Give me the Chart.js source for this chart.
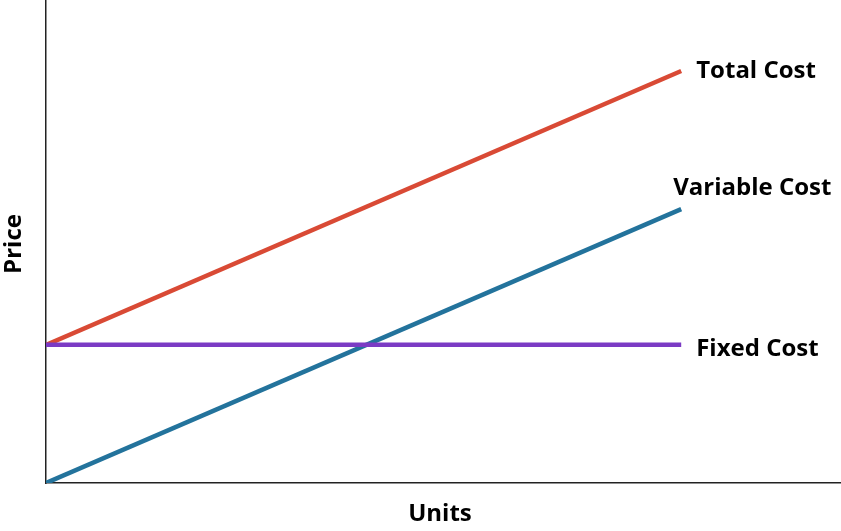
<!DOCTYPE html>
<html><head><meta charset="utf-8">
<script src="https://cdn.jsdelivr.net/npm/chart.js@4"></script>
<style>html,body{margin:0;padding:0;background:#fff}#w{width:841px;height:531px}</style>
</head><body><div id="w"><canvas id="c"></canvas></div>
<script>
const units = [0, 8];
const totalCost = [28.6, 85.3];
const variableCost = [0, 56.7];
const fixedCost = [28.6, 28.6];
const seriesNames = ['Total Cost', 'Variable Cost', 'Fixed Cost'];
const FONT = '"Open Sans", sans-serif';

const labelPlugin = {
  id: 'labels',
  afterDraw(chart) {
    const ctx = chart.ctx, xs = chart.scales.x, ys = chart.scales.y;
    ctx.save();
    ctx.fillStyle = '#000';
    ctx.font = 'bold 24px ' + FONT;
    ctx.textBaseline = 'middle';
    const xe = xs.getPixelForValue(units[1]);
    ctx.textAlign = 'left';
    ctx.fillText(seriesNames[0], xe + 15, ys.getPixelForValue(totalCost[1]));
    ctx.fillText(seriesNames[1], xe - 8, ys.getPixelForValue(variableCost[1]) - 21);
    ctx.fillText(seriesNames[2], xe + 15, ys.getPixelForValue(fixedCost[1]) + 4);
    ctx.textAlign = 'center';
    ctx.fillText('Units', (chart.chartArea.left + chart.chartArea.right) / 2 - 3, 514);
    ctx.translate(14, 244);
    ctx.rotate(-Math.PI / 2);
    ctx.fillText('Price', 0, 0);
    ctx.restore();
  }
};

const mk = (d, c) => ({ data: units.map((x, i) => ({ x, y: d[i] })), borderColor: c, borderWidth: 4.5, pointRadius: 0, tension: 0 });
new Chart(document.getElementById('c'), {
  type: 'line',
  data: { datasets: [mk(fixedCost, '#7b3bc4'), mk(variableCost, '#23739c'), mk(totalCost, '#d94a35')] },
  options: {
    responsive: true, maintainAspectRatio: false, animation: false,
    layout: { padding: { top: 0, right: 1, left: 0, bottom: 0 } },
    plugins: { legend: { display: false }, tooltip: { enabled: false } },
    scales: {
      x: { type: 'linear', min: 0, max: 10, grid: { display: false }, ticks: { display: false },
           border: { display: true, color: '#222', width: 1.5 }, afterFit: s => { s.height = 48; } },
      y: { min: 0, max: 100, grid: { display: false }, ticks: { display: false },
           border: { display: true, color: '#222', width: 1.5 }, afterFit: s => { s.width = 46; } }
    }
  },
  plugins: [labelPlugin]
});
</script></body></html>
